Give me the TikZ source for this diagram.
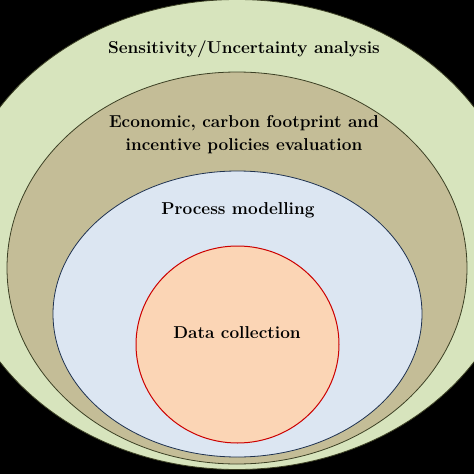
\documentclass[tikz,border=0pt]{standalone}
\usepackage{tikz}
\usetikzlibrary{positioning}

\definecolor{outergreen}{RGB}{215,228,189}
\definecolor{econbrown}{RGB}{196,189,151}
\definecolor{procblue}{RGB}{220,230,242}
\definecolor{datapeach}{RGB}{251,213,181}
\definecolor{rimolive}{RGB}{60,64,36}
\definecolor{rimblue}{RGB}{31,50,80}

\begin{document}
\begin{tikzpicture}[x = 1pt, y = -1pt,
    label/.style = {font = \fontsize{17.2}{23}\selectfont\bfseries, align = center, inner sep = 0pt}]
    \useasboundingbox (0,0) rectangle (474,474);
    \fill[black] (0,0) rectangle (474,474);
    \clip (0,0) rectangle (474,474);
    % nested ellipses, outer to inner
    \draw[fill = outergreen, draw = rimolive, line width = .8pt] (237,234.5) ellipse [x radius = 282, y radius = 235];
    \draw[fill = econbrown, draw = rimolive, line width = .8pt] (237,268) ellipse [x radius = 230, y radius = 196];
    \draw[fill = procblue, draw = rimblue, line width = .8pt] (237.5,314) ellipse [x radius = 184.5, y radius = 143];
    \draw[fill = datapeach, draw = red!80!black, line width = 1pt] (237.5,344.5) ellipse [x radius = 101.5, y radius = 98.5];
    \node[label] (sens) at (244,49) {Sensitivity/Uncertainty analysis};
    \node[label] (econ) at (244,134.5) {Economic, carbon footprint and\\incentive policies evaluation};
    \node[label] (proc) at (238,210) {Process modelling};
    \node[label] (data) at (237,333) {Data collection};
\end{tikzpicture}
\end{document}
